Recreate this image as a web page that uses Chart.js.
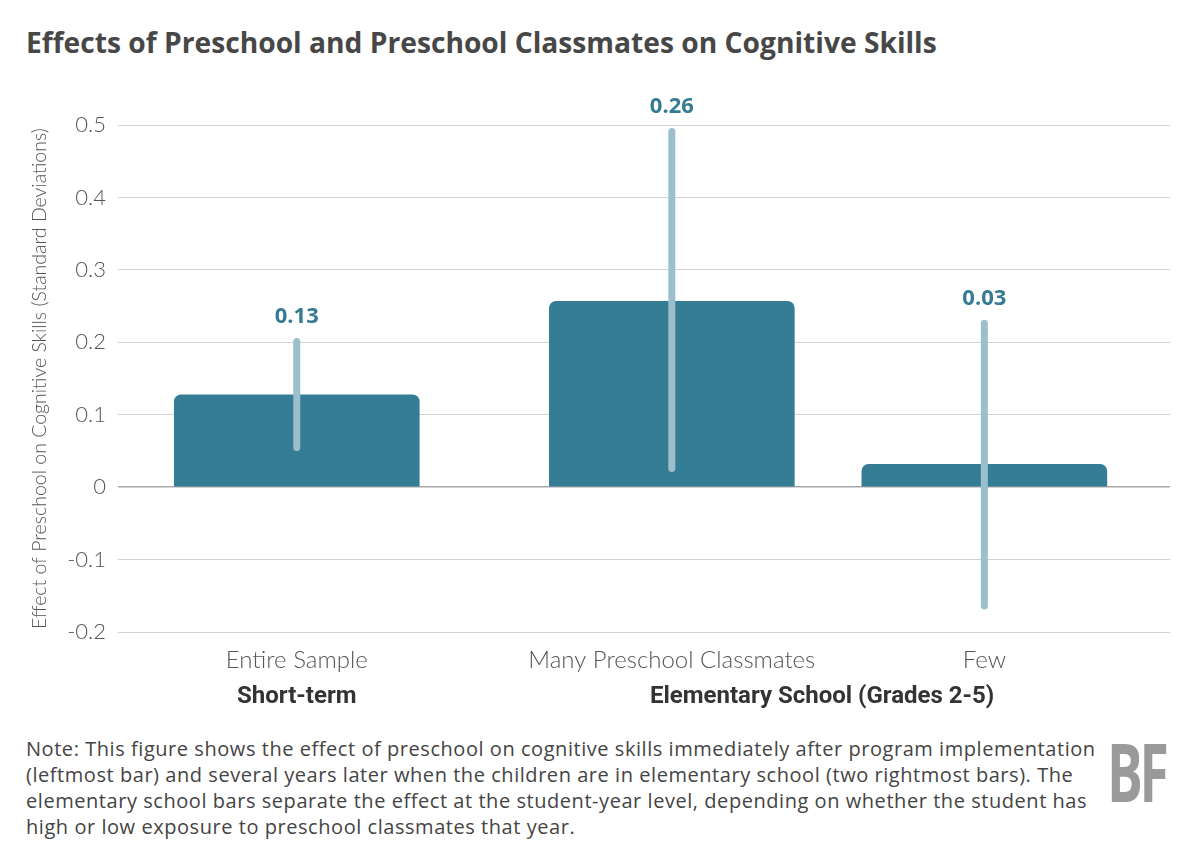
<!DOCTYPE html>
<html>
<head>
<meta charset="utf-8">
<script src="https://cdn.jsdelivr.net/npm/chart.js@4.4.1/dist/chart.umd.min.js"></script>
<style>
html,body{margin:0;padding:0;background:#fff;}
body{width:1200px;height:856px;position:relative;overflow:hidden;font-family:'Open Sans',sans-serif;}
#title{position:absolute;left:26px;top:28px;font-size:28.2px;line-height:28px;font-weight:700;color:#474747;white-space:nowrap;}
#wrap{position:absolute;left:0;top:0;width:1200px;height:730px;}
#note{position:absolute;left:26px;top:736px;font-size:20px;line-height:26px;letter-spacing:0.55px;color:#444;white-space:nowrap;}
#logo{position:absolute;left:1107px;top:730px;font-size:81px;font-weight:700;color:#9a9a9a;font-family:'Open Sans',sans-serif;line-height:81px;white-space:nowrap;letter-spacing:-5px;transform:scaleX(0.66);transform-origin:0 0;}
</style>
</head>
<body>
<div id="title">Effects of Preschool and Preschool Classmates on Cognitive Skills</div>
<div id="wrap"><canvas id="c"></canvas></div>
<div id="note">Note: This figure shows the effect of preschool on cognitive skills immediately after program implementation<br>(leftmost bar) and several years later when the children are in elementary school (two rightmost bars). The<br>elementary school bars separate the effect at the student-year level, depending on whether the student has<br>high or low exposure to preschool classmates that year.</div>
<div id="logo">BF</div>
<script>
// ---- data ----
const categories = ['Entire Sample', 'Many Preschool Classmates', 'Few'];
const groups = ['Short-term', 'Elementary School (Grades 2-5)'];
const groupOf = [0, 1, 1];
const effects = [0.128, 0.257, 0.032];
const ciLow = [0.050, 0.021, -0.169];
const ciHigh = [0.206, 0.496, 0.231];
const yTicks = [-0.2, -0.1, 0, 0.1, 0.2, 0.3, 0.4, 0.5];

// ---- layout ----
const groupGap = 0.2; // extra spacing between groups (in category units)
const slots = categories.map((c, i) => i + groupGap * groupOf[i]);

const barColor = '#357c95';
const errColor = '#9bbfcd';
const labelColor = '#357b94';

const valueLabels = {
  id: 'valueLabels',
  afterDatasetsDraw(chart) {
    const {ctx, scales: {x, y}} = chart;
    ctx.save();
    ctx.font = '700 22px "Open Sans", sans-serif';
    ctx.fillStyle = labelColor;
    ctx.textAlign = 'center';
    ctx.textBaseline = 'alphabetic';
    effects.forEach((v, i) => {
      const px = x.getPixelForValue(slots[i]);
      const py = y.getPixelForValue(ciHigh[i]);
      ctx.fillText(v.toFixed(2), px, py - 15);
    });
    ctx.restore();
  }
};

const groupLabels = {
  id: 'groupLabels',
  afterDraw(chart) {
    const {ctx, scales: {x}} = chart;
    ctx.save();
    ctx.font = '700 24px Roboto, sans-serif';
    ctx.fillStyle = '#333';
    ctx.textAlign = 'center';
    ctx.textBaseline = 'alphabetic';
    groups.forEach((g, gi) => {
      const px = slots.filter((s, i) => groupOf[i] === gi).map(s => x.getPixelForValue(s));
      const cx = px.reduce((a, b) => a + b, 0) / px.length;
      ctx.fillText(g, cx - (px.length > 1 ? 6 : 0), 703);
    });
    ctx.restore();
  }
};

new Chart(document.getElementById('c'), {
  type: 'bar',
  data: {
    datasets: [
      {
        label: 'Confidence interval',
        data: slots.map((s, i) => ({x: s, y: [ciLow[i], ciHigh[i]]})),
        backgroundColor: errColor,
        grouped: false,
        maxBarThickness: 7,
        borderRadius: 4,
        borderSkipped: false,
        order: 0
      },
      {
        label: 'Effect',
        data: slots.map((s, i) => ({x: s, y: effects[i]})),
        backgroundColor: barColor,
        barPercentage: 0.786,
        categoryPercentage: 1,
        borderRadius: {topLeft: 7, topRight: 7, bottomLeft: 0, bottomRight: 0},
        borderSkipped: 'start',
        order: 1
      }
    ]
  },
  options: {
    responsive: true,
    maintainAspectRatio: false,
    animation: false,
    layout: {padding: {top: 125, left: 26, right: 30, bottom: 0}},
    plugins: {legend: {display: false}, tooltip: {enabled: false}},
    scales: {
      x: {
        type: 'linear',
        offset: false,
        min: -0.572,
        max: 2.794,
        afterBuildTicks(scale) { scale.ticks = slots.map(v => ({value: v})); },
        afterFit(scale) { scale.height = 98; },
        grid: {display: false, drawTicks: false, offset: false},
        border: {display: false},
        ticks: {
          autoSkip: false,
          maxRotation: 0,
          padding: 14,
          color: '#555',
          font: {family: 'Lato', weight: 300, size: 24},
          callback(v) { const i = slots.indexOf(v); return i >= 0 ? categories[i] : ''; }
        }
      },
      y: {
        min: -0.2,
        max: 0.5,
        afterBuildTicks(scale) { scale.ticks = yTicks.map(v => ({value: v})); },
        afterFit(scale) { scale.width = 92; },
        grid: {
          drawTicks: false,
          color: c => (c.tick && c.tick.value === 0) ? '#a8a8a8' : '#d2d2d2',
          lineWidth: c => (c.tick && c.tick.value === 0) ? 1.5 : 1
        },
        border: {display: false},
        ticks: {
          padding: 12,
          color: '#555',
          font: {family: 'Lato', weight: 300, size: 22},
          callback(v) { return v === 0 ? '0' : Number(v).toFixed(1); }
        },
        title: {
          display: true,
          text: 'Effect of Preschool on Cognitive Skills (Standard Deviations)',
          color: '#555',
          font: {family: 'Lato', weight: 300, size: 19.5},
          padding: {top: 2, bottom: 0}
        }
      }
    }
  },
  plugins: [valueLabels, groupLabels]
});
</script>
</body>
</html>
